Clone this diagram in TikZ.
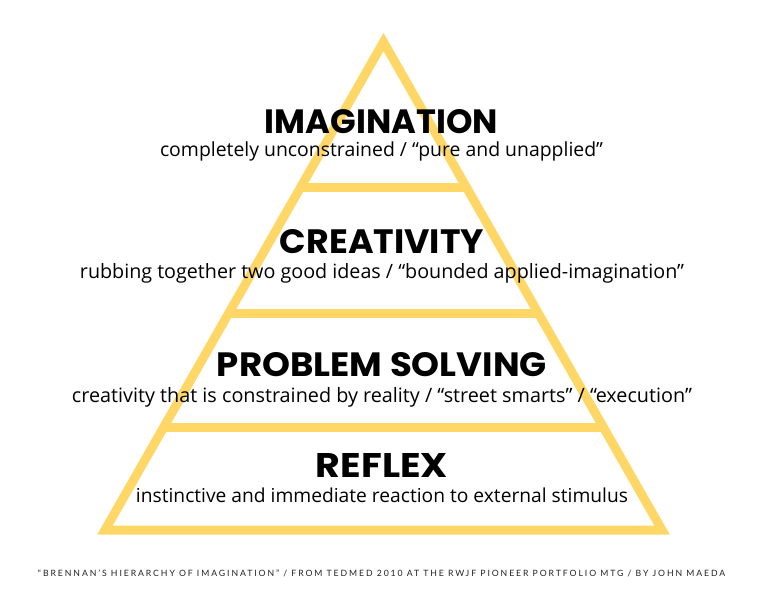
\documentclass[tikz,border=0pt]{standalone}
\usepackage{fontspec}
\usepackage{graphicx}
\usetikzlibrary{calc}
\setmainfont{Open Sans}
\newfontfamily\titlefont{Poppins}
\newfontfamily\subfont{Open Sans}
\newfontfamily\capfont[LetterSpace=22]{Lato}
\definecolor{pyellow}{HTML}{FFD766}
\definecolor{captext}{HTML}{222222}
\tikzset{
  tier/.style={draw=pyellow, line width=9pt, line join=miter},
  title/.style={anchor=base, inner sep=0pt, text=black},
  subtitle/.style={anchor=base, inner sep=0pt, text=black},
  caption/.style={anchor=base, inner sep=0pt, text=captext}
}
\newcommand{\fitw}[2]{\resizebox{#1pt}{!}{#2}}
\newcommand{\fitwh}[2]{\resizebox{#1pt}{24pt}{#2}}
\begin{document}
\begin{tikzpicture}[x=1pt,y=-1pt]
\useasboundingbox[fill=white] (0,0) rectangle (759,597);
\coordinate (ap) at (383.5,42);
\coordinate (bl) at (105,530);
\coordinate (br) at (662,530);
\draw[tier] (ap) -- (bl) -- (br) -- cycle;
\coordinate (l1) at ($(bl)!0.70287!(ap)$);
\coordinate (r1) at ($(br)!0.70287!(ap)$);
\coordinate (l2) at ($(bl)!0.44365!(ap)$);
\coordinate (r2) at ($(br)!0.44365!(ap)$);
\coordinate (l3) at ($(bl)!0.21107!(ap)$);
\coordinate (r3) at ($(br)!0.21107!(ap)$);
\draw[tier, line cap=butt] (l1) -- (r1);
\draw[tier, line cap=butt] (l2) -- (r2);
\draw[tier, line cap=butt] (l3) -- (r3);

\node[title] (t1) at (381.5,133) {\fitwh{233}{\titlefont\bfseries IMAGINATION}};
\node[subtitle] (s1) at (381.5,156) {\fitw{443}{\subfont completely unconstrained / “pure and unapplied”}};
\node[title] (t2) at (382,253) {\fitwh{204}{\titlefont\bfseries CREATIVITY}};
\node[subtitle] (s2) at (382,278) {\fitw{604}{\subfont rubbing together two good ideas / “bounded applied-imagination”}};
\node[title] (t3) at (382,376) {\fitwh{330}{\titlefont\bfseries PROBLEM SOLVING}};
\node[subtitle] (s3) at (382,402) {\fitw{620}{\subfont creativity that is constrained by reality / “street smarts” / “execution”}};
\node[title] (t4) at (382,477) {\fitwh{132}{\titlefont\bfseries REFLEX}};
\node[subtitle] (s4) at (382,502) {\fitw{492}{\subfont instinctive and immediate reaction to external stimulus}};
\node[caption] (cap) at (381.5,576) {\fitw{687}{\capfont “BRENNAN’S HIERARCHY OF IMAGINATION” / FROM TEDMED 2010 AT THE RWJF PIONEER PORTFOLIO MTG / BY JOHN MAEDA}};
\end{tikzpicture}
\end{document}
